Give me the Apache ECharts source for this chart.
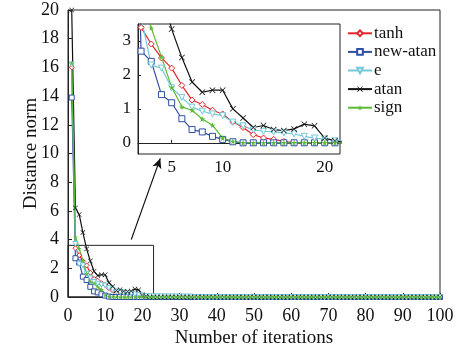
<!DOCTYPE html>
<html>
<head>
<meta charset="utf-8">
<script src="https://cdn.jsdelivr.net/npm/echarts@6/dist/echarts.min.js"></script>
<style>
html,body{margin:0;padding:0;background:#fff;}
#chart{width:474px;height:353px;}
</style>
</head>
<body>
<div id="chart"></div>
<script>
const iterations = Array.from({length: 100}, (_, i) => i + 1);

const seriesNames = ['tanh', 'new-atan', 'e', 'atan', 'sign'];

const tanhValues = [
  16.0, 3.4, 2.91, 2.5, 2.2, 1.69, 1.26, 1.13, 0.96, 0.85,
  0.61, 0.45, 0.24, 0.14, 0.10, 0.04, 0, 0, 0, 0,
  0, 0, 0, 0, 0, 0, 0, 0, 0, 0,
  0, 0, 0, 0, 0, 0, 0, 0, 0, 0,
  0, 0, 0, 0, 0, 0, 0, 0, 0, 0,
  0, 0, 0, 0, 0, 0, 0, 0, 0, 0,
  0, 0, 0, 0, 0, 0, 0, 0, 0, 0,
  0, 0, 0, 0, 0, 0, 0, 0, 0, 0,
  0, 0, 0, 0, 0, 0, 0, 0, 0, 0,
  0, 0, 0, 0, 0, 0, 0, 0, 0, 0
];
const newAtanValues = [
  13.9, 2.7, 2.4, 1.42, 1.18, 0.71, 0.39, 0.32, 0.19, 0.10,
  0.03, 0, 0, 0, 0, 0, 0, 0, 0, 0,
  0, 0, 0, 0, 0, 0, 0, 0, 0, 0,
  0, 0, 0, 0, 0, 0, 0, 0, 0, 0,
  0, 0, 0, 0, 0, 0, 0, 0, 0, 0,
  0, 0, 0, 0, 0, 0, 0, 0, 0, 0,
  0, 0, 0, 0, 0, 0, 0, 0, 0, 0,
  0, 0, 0, 0, 0, 0, 0, 0, 0, 0,
  0, 0, 0, 0, 0, 0, 0, 0, 0, 0,
  0, 0, 0, 0, 0, 0, 0, 0, 0, 0
];
const eValues = [
  16.2, 3.7, 2.29, 2.2, 1.62, 1.34, 1.05, 0.93, 0.85, 0.80,
  0.61, 0.50, 0.38, 0.34, 0.32, 0.29, 0.26, 0.19, 0.14, 0.11,
  0.06, 0.05, 0.05, 0.05, 0.05, 0.04, 0.04, 0.04, 0.04, 0.03,
  0.03, 0.03, 0.03, 0, 0, 0, 0, 0, 0, 0,
  0, 0, 0, 0, 0, 0, 0, 0, 0, 0,
  0, 0, 0, 0, 0, 0, 0, 0, 0, 0,
  0, 0, 0, 0, 0, 0, 0, 0, 0, 0,
  0, 0, 0, 0, 0, 0, 0, 0, 0, 0,
  0, 0, 0, 0, 0, 0, 0, 0, 0, 0,
  0, 0, 0, 0, 0, 0, 0, 0, 0, 0
];
const atanValues = [
  20.0, 6.2, 5.75, 4.5, 3.35, 2.51, 1.79, 1.49, 1.55, 1.55,
  1.0, 0.73, 0.45, 0.51, 0.39, 0.36, 0.41, 0.55, 0.50, 0.14,
  0.06, 0, 0, 0, 0, 0, 0, 0, 0, 0,
  0, 0, 0, 0, 0, 0, 0, 0, 0, 0,
  0, 0, 0, 0, 0, 0, 0, 0, 0, 0,
  0, 0, 0, 0, 0, 0, 0, 0, 0, 0,
  0, 0, 0, 0, 0, 0, 0, 0, 0, 0,
  0, 0, 0, 0, 0, 0, 0, 0, 0, 0,
  0, 0, 0, 0, 0, 0, 0, 0, 0, 0,
  0, 0, 0, 0, 0, 0, 0, 0, 0, 0
];
const signValues = [
  16.3, 4.2, 3.38, 2.53, 1.64, 1.06, 0.96, 0.70, 0.52, 0.14,
  0.04, 0, 0, 0, 0, 0, 0, 0, 0, 0,
  0, 0, 0, 0, 0, 0, 0, 0, 0, 0,
  0, 0, 0, 0, 0, 0, 0, 0, 0, 0,
  0, 0, 0, 0, 0, 0, 0, 0, 0, 0,
  0, 0, 0, 0, 0, 0, 0, 0, 0, 0,
  0, 0, 0, 0, 0, 0, 0, 0, 0, 0,
  0, 0, 0, 0, 0, 0, 0, 0, 0, 0,
  0, 0, 0, 0, 0, 0, 0, 0, 0, 0,
  0, 0, 0, 0, 0, 0, 0, 0, 0, 0
];

const mainXTicks = [0, 10, 20, 30, 40, 50, 60, 70, 80, 90, 100];
const mainYTicks = [0, 2, 4, 6, 8, 10, 12, 14, 16, 18, 20];
const insetXTicks = [5, 10, 15, 20];
const insetXLabels = [5, 10, 20];
const insetYTicks = [0, 1, 2, 3];

// zoom rectangle and arrow (data coordinates of main axes)
const zoomBox = [[0, 0], [23, 3.6]];
const arrowLine = [[17, 4.0], [24.8, 9.66]];

const values = [tanhValues, newAtanValues, eValues, atanValues, signValues];
const colors = ['#e3262c', '#2f4fa2', '#74c9da', '#111111', '#5bbb33'];
const xPath = 'path://M0,1L1,0L5,4.3L9,0L10,1L5.7,5L10,9L9,10L5,5.7L1,10L0,9L4.3,5Z';
const starPath = 'path://M50,0L61,35L98,35L68,57L79,91L50,70L21,91L32,57L2,35L39,35Z';
const symbols = ['diamond', 'rect', 'triangle', xPath, starPath];
const symbolRotate = [0, 0, 180, 0, 0];
const hollow = [true, true, true, false, false];

const FONT = 'Liberation Serif';

function makeSeries(idx, axisIdx, size) {
  return {
    name: seriesNames[idx],
    type: 'line',
    xAxisIndex: axisIdx,
    yAxisIndex: axisIdx,
    data: iterations.map((x, i) => [x, values[idx][i]]),
    symbol: symbols[idx],
    symbolRotate: symbolRotate[idx],
    symbolSize: size,
    showAllSymbol: true,
    clip: true,
    animation: false,
    lineStyle: {color: colors[idx], width: 1.2},
    itemStyle: hollow[idx]
      ? {color: '#ffffff', borderColor: colors[idx], borderWidth: 1}
      : {color: colors[idx], borderColor: colors[idx], borderWidth: 0},
    emphasis: {disabled: true}
  };
}

const series = [];
for (let i = 0; i < 5; i++) series.push(makeSeries(i, 0, 5));
for (let i = 0; i < 5; i++) series.push(makeSeries(i, 1, 6));

series[4].markArea = {
  silent: true,
  itemStyle: {color: 'rgba(0,0,0,0)', borderColor: '#222', borderWidth: 1},
  data: [[{coord: zoomBox[0]}, {coord: zoomBox[1]}]]
};
series[4].markLine = {
  silent: true,
  symbol: ['none', 'arrow'],
  symbolSize: [7, 10],
  label: {show: false},
  lineStyle: {color: '#111', width: 1.2, type: 'solid'},
  data: [[{coord: arrowLine[0]}, {coord: arrowLine[1]}]]
};

const axisText = {color: '#111', fontFamily: FONT};

const option = {
  animation: false,
  backgroundColor: '#fff',
  legend: {
    data: seriesNames,
    orient: 'vertical',
    left: 342,
    top: 19,
    itemWidth: 24,
    itemHeight: 7,
    itemGap: 0,
    textStyle: {fontFamily: FONT, fontSize: 17, color: '#111', lineHeight: 18.6, padding: [0, 0, 0, -3]},
    selectedMode: false
  },
  grid: [
    {left: 68, right: 34, top: 10, bottom: 52, show: true, borderColor: '#222', borderWidth: 1, containLabel: false},
    {left: 138, right: 134, top: 24, bottom: 199, show: true, borderColor: '#222', borderWidth: 1, backgroundColor: '#fff', containLabel: false}
  ],
  xAxis: [
    {
      type: 'value', gridIndex: 0, min: 0, max: 100, interval: 10,
      name: 'Number of iterations', nameLocation: 'middle', nameGap: 32, nameMoveOverlap: false,
      nameTextStyle: Object.assign({fontSize: 19, verticalAlign: 'top'}, axisText),
      axisLine: {lineStyle: {color: '#222'}},
      axisTick: {inside: true, length: 4, lineStyle: {color: '#222'}, customValues: mainXTicks},
      axisLabel: Object.assign({fontSize: 18, margin: 10, customValues: mainXTicks}, axisText),
      splitLine: {show: false}
    },
    {
      type: 'value', gridIndex: 1, min: 1.7, max: 21.5,
      axisLine: {lineStyle: {color: '#222'}},
      axisTick: {inside: true, length: 3, lineStyle: {color: '#222'}, customValues: insetXTicks},
      axisLabel: Object.assign({fontSize: 17, margin: 5, customValues: insetXLabels}, axisText),
      splitLine: {show: false}
    }
  ],
  yAxis: [
    {
      type: 'value', gridIndex: 0, min: 0, max: 20, interval: 2,
      name: 'Distance norm', nameLocation: 'middle', nameGap: 27, nameMoveOverlap: false,
      nameTextStyle: Object.assign({fontSize: 19}, axisText),
      axisLine: {lineStyle: {color: '#222'}},
      axisTick: {inside: true, length: 4, lineStyle: {color: '#222'}, customValues: mainYTicks},
      axisLabel: Object.assign({fontSize: 18, margin: 9, customValues: mainYTicks}, axisText),
      splitLine: {show: false}
    },
    {
      type: 'value', gridIndex: 1, min: -0.33, max: 3.5,
      axisLine: {lineStyle: {color: '#222'}},
      axisTick: {inside: true, length: 3, lineStyle: {color: '#222'}, customValues: insetYTicks},
      axisLabel: Object.assign({fontSize: 17, margin: 7, customValues: insetYTicks}, axisText),
      splitLine: {show: false}
    }
  ],
  series: series
};

const chart = echarts.init(document.getElementById('chart'), null, {renderer: 'canvas'});
chart.setOption(option);
</script>
</body>
</html>
